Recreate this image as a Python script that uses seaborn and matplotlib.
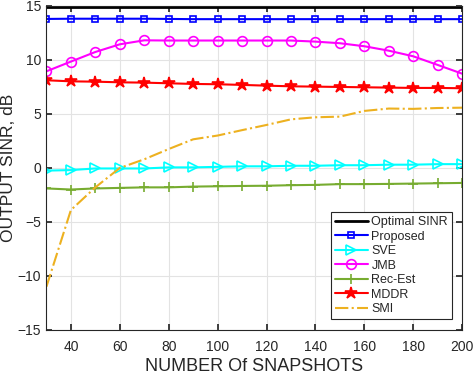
import numpy as np
import pandas as pd
import matplotlib
matplotlib.use("Agg")
import matplotlib.pyplot as plt
import seaborn as sns

snapshots = [30, 40, 50, 60, 70, 80, 90, 100, 110, 120, 130, 140, 150, 160, 170, 180, 190, 200]
optimal = [14.95] * 18
proposed = [13.8, 13.82, 13.82, 13.82, 13.82, 13.8, 13.78, 13.78, 13.78, 13.78, 13.78, 13.78, 13.78, 13.78, 13.78, 13.78, 13.78, 13.78]
sve = [-0.25, -0.2, -0.05, -0.05, -0.05, 0.05, 0.05, 0.1, 0.15, 0.15, 0.2, 0.2, 0.25, 0.25, 0.3, 0.3, 0.35, 0.35]
jmb = [8.95, 9.85, 10.74, 11.45, 11.82, 11.8, 11.8, 11.8, 11.8, 11.8, 11.8, 11.7, 11.55, 11.27, 10.86, 10.34, 9.54, 8.73]
recest = [-1.9, -2.0, -1.9, -1.85, -1.8, -1.8, -1.73, -1.7, -1.67, -1.65, -1.6, -1.57, -1.5, -1.5, -1.48, -1.45, -1.42, -1.39]
mddr = [8.12, 8.02, 7.99, 7.93, 7.9, 7.84, 7.78, 7.75, 7.69, 7.62, 7.56, 7.53, 7.5, 7.47, 7.44, 7.41, 7.41, 7.38]
smi = [-11.0, -3.9, -1.8, 0.0, 0.8, 1.75, 2.65, 3.0, 3.5, 3.98, 4.5, 4.69, 4.75, 5.28, 5.5, 5.47, 5.55, 5.58]

series = [
    ("Optimal SINR", optimal, "black", None, "-", 2.0, 6),
    ("Proposed", proposed, "#0000ff", "s", "-", 1.5, 5),
    ("SVE", sve, "#00ffff", ">", "-", 1.5, 7),
    ("JMB", jmb, "#ff00ff", "o", "-", 1.5, 7),
    ("Rec-Est", recest, "#77ac30", "+", "-", 1.5, 7),
    ("MDDR", mddr, "#ff0000", "*", "-", 1.5, 9),
    ("SMI", smi, "#edb120", None, "-.", 1.5, 6),
]

sns.set_theme(style="whitegrid")
plt.rcParams['font.family'] = ['Liberation Sans', 'DejaVu Sans']

fig = plt.figure(figsize=(4.74, 3.74), dpi=100)
ax = fig.add_axes([0.098, 0.118, 0.877, 0.866])

for name, vals, color, marker, ls, lw, ms in series:
    df = pd.DataFrame({"x": snapshots, "y": vals})
    kw = {}
    if marker is not None:
        kw.update(marker=marker, markersize=ms,
                  markerfacecolor=("none" if marker not in ("*", "+") else color),
                  markeredgecolor=color, markeredgewidth=1.2)
    sns.lineplot(data=df, x="x", y="y", ax=ax, color=color, linestyle=ls,
                 linewidth=lw, label=name, **kw)

ax.set_xlim(30, 200)
ax.set_ylim(-15, 15)
ax.set_xticks([40, 60, 80, 100, 120, 140, 160, 180, 200])
ax.set_yticks([-15, -10, -5, 0, 5, 10, 15])
ax.set_xlabel("NUMBER Of SNAPSHOTS", fontsize=13, color="#262626", labelpad=3)
ax.set_ylabel("OUTPUT SINR, dB", fontsize=12.5, color="#262626", labelpad=1)
ax.tick_params(axis="both", labelsize=10, direction="in", length=4, colors="#262626",
               top=True, right=True, bottom=True, left=True, pad=4)
ax.tick_params(axis="x", pad=7)
ax.grid(True, color="#e3e3e3", linewidth=0.8)
ax.set_facecolor("white")
for s in ax.spines.values():
    s.set_edgecolor("#262626")
    s.set_linewidth(0.8)

leg = ax.legend(loc="lower right", fontsize=9, frameon=True, fancybox=False,
                edgecolor="#262626", framealpha=1, handlelength=2.6,
                borderpad=0.3, labelspacing=0.2, handletextpad=0.3,
                bbox_to_anchor=(0.99, 0.015))
leg.get_frame().set_linewidth(0.8)

fig.savefig("out.png", dpi=100)
